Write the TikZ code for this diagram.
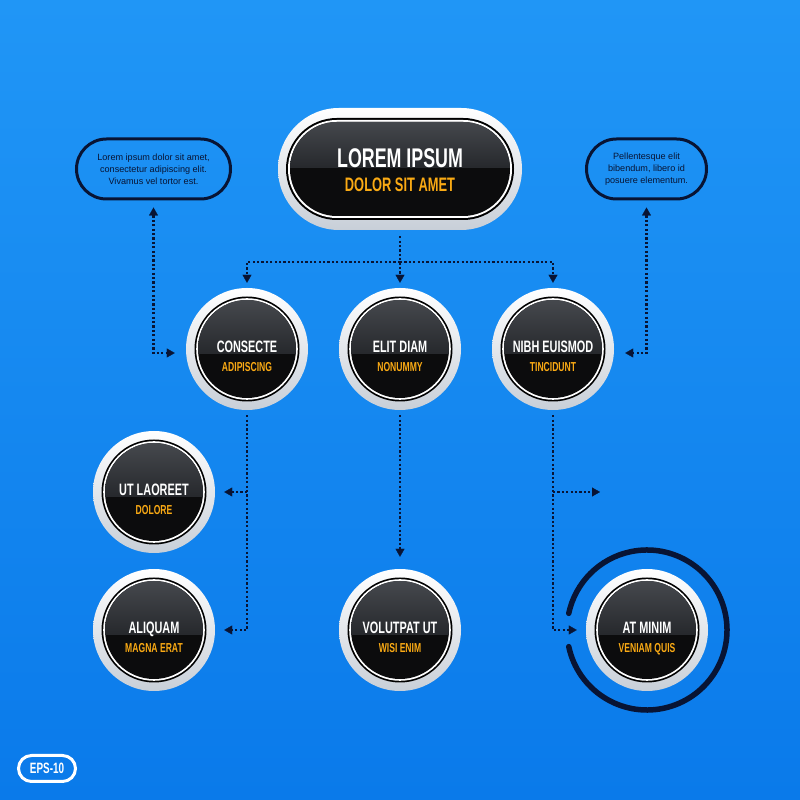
\documentclass[tikz,border=0pt]{standalone}
\usepackage{fontspec}
\setmainfont{Liberation Sans}
\newfontfamily\cond[FakeStretch=0.66]{Liberation Sans}
\usetikzlibrary{arrows.meta,shapes.misc}
\definecolor{bgtop}{RGB}{32,150,246}
\definecolor{bgbot}{RGB}{10,122,234}
\definecolor{navy}{RGB}{8,20,52}
\definecolor{orng}{RGB}{250,170,20}
\definecolor{rimlo}{RGB}{200,207,216}
\definecolor{gtop}{RGB}{70,73,78}
\definecolor{gmid}{RGB}{38,40,44}
\definecolor{dbot}{RGB}{12,12,13}
\tikzset{
 orb/.style={circle, minimum size=122pt, inner sep=0pt, top color=white, bottom color=rimlo,
   path picture={
     \fill[black] (path picture bounding box.center) circle[radius=52.5pt];
     \fill[white] (path picture bounding box.center) circle[radius=50.8pt];
     \fill[dbot] (path picture bounding box.center) circle[radius=49pt];
     \begin{scope}
      \clip (path picture bounding box.center) circle[radius=49pt];
      \shade[top color=gtop, bottom color=gmid] ([shift={(-50pt,-5pt)}]path picture bounding box.center) rectangle ++(100pt,55pt);
     \end{scope}
   }},
 hero/.style={rounded rectangle, minimum width=244pt, minimum height=122pt, inner sep=0pt, top color=white, bottom color=rimlo,
   path picture={
     \fill[black, rounded corners=50.9pt] ([shift={(-114pt,-51pt)}]path picture bounding box.center) rectangle ([shift={(114pt,51pt)}]path picture bounding box.center);
     \fill[white, rounded corners=48.9pt] ([shift={(-112pt,-49pt)}]path picture bounding box.center) rectangle ([shift={(112pt,49pt)}]path picture bounding box.center);
     \fill[dbot, rounded corners=46.9pt] ([shift={(-110pt,-47pt)}]path picture bounding box.center) rectangle ([shift={(110pt,47pt)}]path picture bounding box.center);
     \begin{scope}
      \clip[rounded corners=46.9pt] ([shift={(-110pt,-47pt)}]path picture bounding box.center) rectangle ([shift={(110pt,47pt)}]path picture bounding box.center);
      \shade[top color=gtop, bottom color=gmid] ([shift={(-112pt,1pt)}]path picture bounding box.center) rectangle ++(224pt,48pt);
     \end{scope}
   }},
 ttl/.style={anchor=base, text=white, font=\cond\bfseries\fontsize{16.5}{16.5}\selectfont, inner sep=0pt},
 sub/.style={anchor=base, text=orng, font=\cond\bfseries\fontsize{13}{13}\selectfont, inner sep=0pt},
 note/.style={rounded rectangle, draw=navy, line width=3pt, minimum height=60pt, inner sep=0pt, align=center, text=navy, font=\fontsize{9.1}{12.2}\selectfont},
 conn/.style={draw=navy, line width=2.2pt, dash pattern=on 2.2pt off 2.2pt},
 arr/.style={-{Triangle[width=9pt,length=8pt,line width=0.3pt]}},
 arrb/.style={{Triangle[width=9pt,length=8pt,line width=0.3pt]}-{Triangle[width=9pt,length=8pt,line width=0.3pt]}}
}
\begin{document}
\begin{tikzpicture}[x=1pt,y=1pt]
\useasboundingbox (0,0) rectangle (800,800);
\shade[top color=bgtop, bottom color=bgbot] (0,0) rectangle (800,800);

% top
\node[hero] (top) at (400,631) {};
\node[ttl, font=\cond\bfseries\fontsize{27}{27}\selectfont] (topt) at ([yshift=1pt]top.center) {LOREM IPSUM};
\node[sub, font=\cond\bfseries\fontsize{19.5}{19.5}\selectfont] (tops) at ([yshift=-23pt]top.center) {DOLOR SIT AMET};

% notes
\node[note, minimum width=154pt] (lb) at (153.5,631) {Lorem ipsum dolor sit amet,\\consectetur adipiscing elit.\\Vivamus vel tortor est.};
\node[note, minimum width=120pt] (rb) at (646.5,631) {Pellentesque elit\\bibendum, libero id\\posuere elementum.};

% circles
\node[orb] (c1) at (247,451) {};
\node[orb] (c2) at (400,451) {};
\node[orb] (c3) at (553,451) {};
\node[orb] (d1) at (154,308) {};
\node[orb] (d2) at (154,170) {};
\node[orb] (d3) at (400,170) {};
\node[orb] (d4) at (647,170) {};

\node[ttl] (c1t) at ([yshift=-4pt]c1.center) {CONSECTE};
\node[sub] (c1s) at ([yshift=-23pt]c1.center) {ADIPISCING};
\node[ttl] (c2t) at ([yshift=-4pt]c2.center) {ELIT DIAM};
\node[sub] (c2s) at ([yshift=-23pt]c2.center) {NONUMMY};
\node[ttl] (c3t) at ([yshift=-4pt]c3.center) {NIBH EUISMOD};
\node[sub] (c3s) at ([yshift=-23pt]c3.center) {TINCIDUNT};
\node[ttl] (d1t) at ([yshift=-4pt]d1.center) {UT LAOREET};
\node[sub] (d1s) at ([yshift=-23pt]d1.center) {DOLORE};
\node[ttl] (d2t) at ([yshift=-4pt]d2.center) {ALIQUAM};
\node[sub] (d2s) at ([yshift=-23pt]d2.center) {MAGNA ERAT};
\node[ttl] (d3t) at ([yshift=-4pt]d3.center) {VOLUTPAT UT};
\node[sub] (d3s) at ([yshift=-23pt]d3.center) {WISI ENIM};
\node[ttl] (d4t) at ([yshift=-4pt]d4.center) {AT MINIM};
\node[sub] (d4s) at ([yshift=-23pt]d4.center) {VENIAM QUIS};

% ring
\draw[navy, line width=5.5pt, line cap=round] ([shift={(192:80pt)}]d4.center) arc[start angle=192, end angle=528, radius=80pt];

% connectors
\coordinate (hj) at (400,538);
\coordinate (e1) at (600,308);
\draw[conn,arr,shorten <=6pt,shorten >=5pt] (top.south) -- (c2.north);
\draw[conn,arr,shorten >=5pt] (hj) -| (c1.north);
\draw[conn,arr,shorten >=5pt] (hj) -| (c3.north);
\draw[conn,arrb,shorten <=7pt,shorten >=11pt] (lb.south) |- ([yshift=-4pt]c1.west);
\draw[conn,arrb,shorten <=7pt,shorten >=11pt] (rb.south) |- ([yshift=-4pt]c3.east);
\draw[conn,arr,shorten <=5pt,shorten >=9pt] (c1.south) |- (d2.east);
\draw[conn,arr,shorten >=9pt] (c1.south |- d1.east) -- (d1.east);
\draw[conn,arr,shorten <=5pt,shorten >=12pt] (c2.south) -- (d3.north);
\draw[conn,arr,shorten <=5pt,shorten >=9pt] (c3.south) |- (d4.west);
\draw[conn,arr] (c3.south |- e1) -- (e1);

% badge
\node[rounded rectangle, draw=white, line width=3pt, minimum width=57pt, minimum height=26pt, inner sep=0pt, text=white, font=\cond\bfseries\fontsize{15}{15}\selectfont] (eps) at (47,31.5) {EPS-10};
\end{tikzpicture}
\end{document}
